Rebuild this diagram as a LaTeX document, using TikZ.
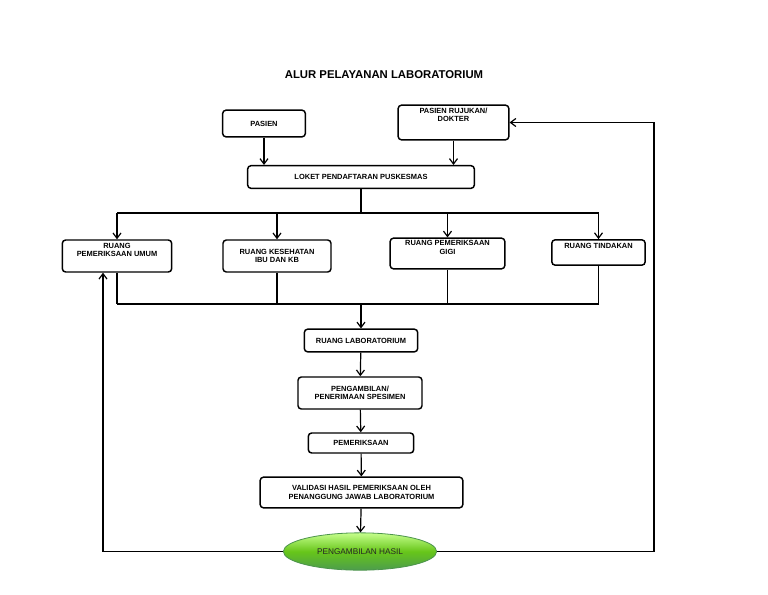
\documentclass[tikz,border=0pt]{standalone}
\usepackage{fontspec}
\setmainfont{Liberation Sans}
\usetikzlibrary{shapes.geometric,arrows.meta}
\begin{document}
\begin{tikzpicture}[x=0.75pt,y=-0.75pt,
 box/.style={draw,line width=1.1pt,rounded corners=2.5pt,font=\fontsize{5.6}{6.2}\selectfont\bfseries,align=center,inner sep=0pt},
 ln/.style={line width=0.9pt},
 ar/.style={ln,-{Straight Barb[length=4pt,width=6pt]}}]
\useasboundingbox (0,0) rectangle (768,594);
\node[font=\fontsize{8.5}{10}\selectfont\bfseries] (t) at (384,75) {ALUR PELAYANAN LABORATORIUM};
\node[box,minimum width=62pt,minimum height=20pt] (pas) at (264,123.5) {PASIEN};
\node[box,minimum width=83pt,minimum height=26pt] (ruj) at (453.5,122.5) {PASIEN RUJUKAN/\\DOKTER\\[5pt]};
\node[box,minimum width=170pt,minimum height=17pt] (lok) at (361,177) {LOKET PENDAFTARAN PUSKESMAS};
\node[box,minimum width=82pt,minimum height=24pt] (r1) at (117,256) {RUANG\\PEMERIKSAAN UMUM\\[3pt]};
\node[box,minimum width=81pt,minimum height=24pt] (r2) at (277,256) {RUANG KESEHATAN\\IBU DAN KB};
\node[box,minimum width=86pt,minimum height=23pt] (r3) at (447.5,253.5) {RUANG PEMERIKSAAN\\GIGI\\[3pt]};
\node[box,minimum width=70pt,minimum height=19pt] (r4) at (598.5,252.5) {RUANG TINDAKAN\\[4pt]};
\node[box,minimum width=85pt,minimum height=17pt] (lab) at (361,340.5) {RUANG LABORATORIUM};
\node[box,minimum width=93pt,minimum height=24pt] (sp) at (360,393) {PENGAMBILAN/\\PENERIMAAN SPESIMEN};
\node[box,minimum width=79pt,minimum height=15pt] (pm) at (361,443) {PEMERIKSAAN};
\node[box,minimum width=152pt,minimum height=23pt] (val) at (361.5,492.5) {VALIDASI HASIL PEMERIKSAAN OLEH\\PENANGGUNG JAWAB LABORATORIUM};
\node[ellipse,draw=green!40!black!70,line width=0.6pt,top color=yellow!50!green!45,bottom color=green!45!black!70,middle color=yellow!45!green!75!black!90,minimum width=115pt,minimum height=28pt,inner sep=0pt,font=\fontsize{6.2}{7}\selectfont\color{black!85}] (hs) at (360,551.5) {PENGAMBILAN HASIL};
\coordinate (bt) at (361,213);
\coordinate (bb) at (361,304);
\coordinate (lc) at (103,551.5);
\coordinate (rc) at (654,551.5);
\draw[ar] (pas) -- (pas|-lok.north);
\draw[ar] (ruj) -- (ruj|-lok.north);
\draw[ln] (lok) -- (bt);
\draw[ln] (r1|-bt) -- (r4|-bt);
\foreach \r in {r1,r2,r3,r4} \draw[ar] (\r|-bt) -- (\r.north);
\foreach \r in {r2,r3,r4} \draw[ln] (\r.south) -- (\r|-bb);
\draw[ln] (r1|-bb) -- (r4|-bb);
\draw[ln] (r1.south) -- (r1|-bb);
\draw[ar] (bb) -- (lab);
\draw[ar] (lab) -- (sp);
\draw[ar] (sp) -- (pm);
\draw[ar] (pm) -- (val);
\draw[ar] (val) -- (hs);
\draw[ar] (hs.west) -- (lc) -- (lc|-r1.south);
\draw[ar] (hs.east) -- (rc) -- (rc|-ruj.east) -- (ruj.east);
\end{tikzpicture}
\end{document}
